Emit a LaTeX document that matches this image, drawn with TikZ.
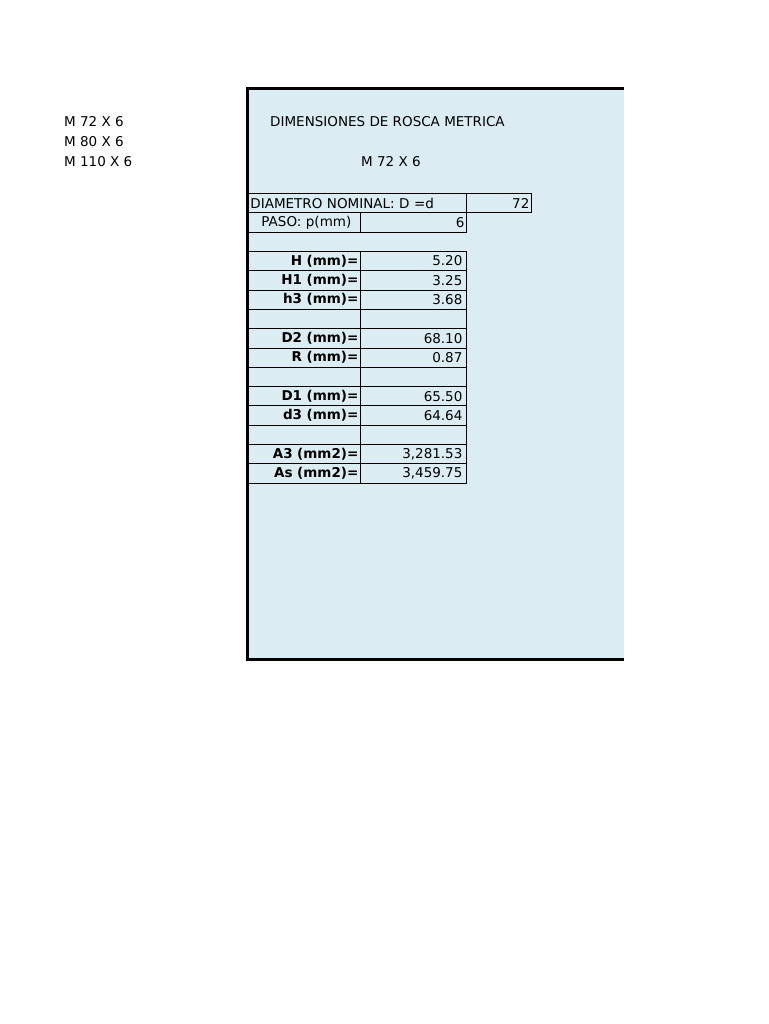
\documentclass[tikz,border=0pt]{standalone}
\usepackage{fontspec}
\setmainfont{DejaVu Sans}
\definecolor{panel}{HTML}{DBEDF3}
\begin{document}
\begin{tikzpicture}[x=1pt,y=-1pt,
  cell/.style={draw=black,line width=0.8pt,minimum height=19.3pt,inner sep=2pt,font=\fontsize{13.5}{15}\selectfont},
  txt/.style={font=\fontsize{13.5}{15}\selectfont,inner sep=0pt,anchor=west}]
\useasboundingbox (0,0) rectangle (768,1024);
\fill[panel] (247,89) rectangle (624,659);
\draw[line width=3pt] (624,89) -- (247,89) -- (247,659) -- (624,659);
\node[txt] (l1) at (64,122) {M 72 X 6};
\node[txt] (l2) at (64,142) {M 80 X 6};
\node[txt] (l3) at (64,162) {M 110 X 6};
\node[txt] (t1) at (270,122) {DIMENSIONES DE ROSCA METRICA};
\node[txt] (t2) at (361,162) {M 72 X 6};
\node[cell,minimum width=218pt,anchor=north west,text width=214pt,align=left,inner sep=1pt] (dn) at (248,193) {DIAMETRO NOMINAL: D =d};
\node[cell,minimum width=65pt,anchor=north west,text width=61pt,align=right] (dv) at (466,193) {72};
\node[cell,minimum width=112pt,anchor=north west,text width=100pt,align=left] (pn) at (248,212.3) {\hspace*{7pt}PASO: p(mm)};
\node[cell,minimum width=106pt,anchor=north west,text width=102pt,align=right] (pv) at (360,212.3) {6};
\foreach \i/\a/\b in {0/H (mm)=/5.20,1/H1 (mm)=/3.25,2/h3 (mm)=/3.68,3//,4/D2 (mm)=/68.10,5/R (mm)=/0.87,6//,7/D1 (mm)=/65.50,8/d3 (mm)=/64.64,9//,10/A3 (mm2)=/{3,281.53},11/As (mm2)=/{3,459.75}}{
  \node[cell,minimum width=112pt,anchor=north west,text width=108pt,align=right,font=\fontsize{13.5}{15}\selectfont\bfseries] (a\i) at (248,251+19.3*\i) {\a};
  \node[cell,minimum width=106pt,anchor=north west,text width=98pt,align=right] (b\i) at (360,251+19.3*\i) {\b\hspace*{4pt}};
}
\end{tikzpicture}
\end{document}
